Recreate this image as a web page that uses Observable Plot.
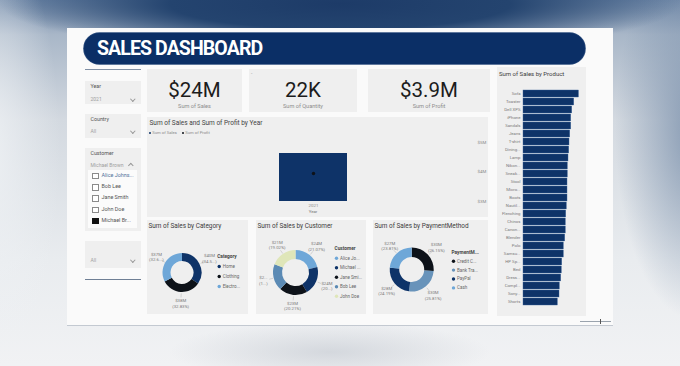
<!DOCTYPE html>
<html>
<head>
<meta charset="utf-8">
<script src="https://cdn.jsdelivr.net/npm/d3@7"></script>
<script src="https://cdn.jsdelivr.net/npm/@observablehq/plot@0.6"></script>
<style>
html,body{margin:0;padding:0;}
body{width:680px;height:366px;overflow:hidden;position:relative;font-family:Roboto,"Open Sans",sans-serif;
 background:
  radial-gradient(ellipse 340px 50px at 340px 4px, #1d3b68 0%, #24446f 50%, rgba(40,70,110,0) 100%),
  radial-gradient(ellipse 80px 190px at 695px 130px, rgba(120,142,170,0.85) 0%, rgba(120,142,170,0) 100%),
  radial-gradient(ellipse 70px 220px at -10px 150px, rgba(238,241,244,0.9) 0%, rgba(238,241,244,0) 100%),
  radial-gradient(ellipse 160px 30px at 330px 352px, rgba(200,205,212,0.7) 0%, rgba(200,205,212,0) 100%),
  linear-gradient(180deg, #6f88a8 0px, #a9b7c8 35px, #d3d9e0 120px, #e9ecef 260px, #f1f2f4 366px);
}
#root{position:absolute;left:0;top:0;width:680px;height:366px;}
.a{position:absolute;}
.t{position:absolute;white-space:nowrap;line-height:1;transform:translateY(-50%);}
.box{position:absolute;background:#efefef;}
.chev{position:absolute;width:2.6px;height:2.6px;border-right:0.7px solid #999;border-bottom:0.7px solid #999;}
.cb{position:absolute;width:4.4px;height:4.4px;border:0.7px solid #8a8a8a;background:#fff;}
</style>
</head>
<body>
<div id="root"></div>
<script>
// ---------------- data ----------------
const dashboardTitle = "SALES DASHBOARD";

const kpiValues = ["$24M", "22K", "$3.9M"];
const kpiLabels = ["Sum of Sales", "Sum of Quantity", "Sum of Profit"];

const years = ["2021"];
const yearSales = [24];      // $M
const yearProfit = [3.95];   // $M
const profitTicks = [3, 4, 5];

const categoryNames = ["Home", "Clothing", "Electronics"];
const categoryLegend = ["Home", "Clothing", "Electro..."];
const categoryShare = [34.55, 32.83, 32.62];
const categoryValueLabels = ["$40M", "$38M", "$37M"];
const categoryPctLabels = ["(34.5...)", "(32.83%)", "(32.6...)"];

const customerNames = ["Alice Johnson", "Michael Brown", "Jane Smith", "Bob Lee", "John Doe"];
const customerLegend = ["Alice Jo...", "Michael ...", "Jane Smi...", "Bob Lee", "John Doe"];
const customerShare = [21.07, 20.5, 20.21, 19.2, 19.02];
const customerValueLabels = ["$24M", "$24M", "$23M", "$2...", "$21M"];
const customerPctLabels = ["(21.07%)", "(20...)", "(20.21%)", "(1...)", "(19.02%)"];

const paymentNames = ["Credit Card", "Bank Transfer", "PayPal", "Cash"];
const paymentLegend = ["Credit C...", "Bank Tra...", "PayPal", "Cash"];
const paymentShare = [26.15, 25.81, 24.19, 23.81];
const paymentValueLabels = ["$30M", "$30M", "$28M", "$27M"];
const paymentPctLabels = ["(26.15%)", "(25.81%)", "(24.19%)", "(23.81%)"];

const productNames = ["Sofa", "Toaster", "Dell XPS", "iPhone", "Sandals", "Jeans", "T-shirt", "Dining...", "Lamp",
  "Nikon...", "Sneak...", "Stool", "Micro...", "Boots", "Nautil...", "Flenching", "Chinos", "Canon...", "Blender",
  "Polo", "Samsu...", "HP Sp...", "Bed", "Dress...", "Compl...", "Sony...", "Shorts"];
const productSales = [5.54, 5.07, 4.87, 4.77, 4.77, 4.67, 4.6, 4.57, 4.5, 4.43, 4.43, 4.4, 4.4, 4.4, 4.33, 4.27,
  4.23, 4.23, 4.17, 4.03, 4.03, 3.87, 3.83, 3.77, 3.63, 3.6, 3.43];

const customerOptions = ["Alice Johns...", "Bob Lee", "Jane Smith", "John Doe", "Michael Br..."];
const customerChecked = [false, false, false, false, true];

// ---------------- palette ----------------
const NAVY = "#0e3368", BLACK = "#0d1219", LIGHT = "#6ea7d8", STEEL = "#5b8ab4", PALE = "#dfe6b9";

// ---------------- helpers ----------------
const root = document.getElementById("root");
function div(cls, left, top, w, h, css = "") {
  const d = document.createElement("div");
  d.className = cls;
  d.style.cssText = `left:${left}px;top:${top}px;` + (w != null ? `width:${w}px;` : "") + (h != null ? `height:${h}px;` : "") + css;
  root.appendChild(d);
  return d;
}
function txt(s, left, cy, css = "") {
  const d = div("t", left, cy, null, null, css);
  d.textContent = s;
  return d;
}
function place(node, left, top) {
  const d = div("a", left, top);
  d.appendChild(node);
  return d;
}

// ---------------- frame ----------------
div("a", 67, 28, 546, 298, "background:#fafafa;");
div("a", 67, 325, 546, 1.2, "background:#c3c9d1;");
div("a", 580, 321, 31, 0.8, "background:#9aa3ad;");
div("a", 600, 318.5, 1.2, 5, "background:#555;");
div("a", 84, 33, 501, 31, "background:#0b2f66;border-radius:16px;box-shadow:0 0 0 0.8px #2c4d7e;");
txt(dashboardTitle, 97, 48.8, "color:#fff;font-weight:700;font-size:19.5px;letter-spacing:-0.9px;");

// ---------------- slicers ----------------
div("a", 85, 68.5, 56, 1.6, "background:#7f8fa4;");
div("box", 85, 81, 56, 23);
txt("Year", 90.5, 86.5, "font-size:5.3px;color:#555;");
txt("2021", 90.5, 98.5, "font-size:5px;color:#a0a0a0;");
div("chev", 131, 96.5, null, null, "transform:rotate(45deg);");
div("box", 85, 114, 56, 23.5);
txt("Country", 90.5, 119.5, "font-size:5.3px;color:#555;");
txt("All", 90.5, 131, "font-size:5px;color:#a0a0a0;");
div("chev", 131, 129, null, null, "transform:rotate(45deg);");
div("box", 85, 148, 56, 83);
txt("Customer", 90.5, 153.5, "font-size:5.3px;color:#555;");
txt("Michael Brown", 90.5, 164.5, "font-size:5px;color:#a0a0a0;");
div("chev", 128.5, 164, null, null, "transform:rotate(-135deg);");
div("a", 88, 170, 49, 58, "background:#fbfbfb;");
customerOptions.forEach((n, i) => {
  const cy = 175.8 + i * 11.25;
  div("cb", 92.3, cy - 2.9, null, null, customerChecked[i] ? "background:#111;border-color:#111;" : "");
  txt(n, 101.5, cy, `font-size:5.4px;color:${i === 0 ? "#50709a" : "#555"};`);
});
div("box", 85, 241, 56, 27);
txt("All", 90.5, 259.5, "font-size:5px;color:#a0a0a0;");
div("chev", 131, 257.5, null, null, "transform:rotate(45deg);");
div("a", 85, 278.5, 56, 1.6, "background:#6f7f95;");

// ---------------- KPI cards ----------------
const cards = [[147, 95], [249, 108], [368, 122]];
cards.forEach(([x, w], i) => {
  div("box", x, 69, w, 43);
  txt(kpiValues[i], x, 90, `width:${w}px;text-align:center;font-size:20.5px;color:#1c1c1c;`);
  txt(kpiLabels[i], x, 106.5, `width:${w}px;text-align:center;font-size:5.6px;color:#8c8c8c;`);
});
txt("-", 251, 72.5, "font-size:5px;color:#999;");

// ---------------- Sales & Profit by Year ----------------
div("box", 147, 117, 341, 100);
txt("Sum of Sales and Sum of Profit by Year", 149.5, 122.5, "font-size:6.5px;color:#444;");
div("a", 148.8, 131.8, 2.6, 2.6, `border-radius:50%;background:${NAVY};`);
txt("Sum of Sales", 152.3, 133.2, "font-size:4.2px;color:#8a8a8a;");
div("a", 181.8, 131.8, 2.6, 2.6, `border-radius:50%;background:${BLACK};`);
txt("Sum of Profit", 185.3, 133.2, "font-size:4.2px;color:#8a8a8a;");

const yearRows = years.map((y, i) => ({year: y, sales: yearSales[i], profit: yearProfit[i]}));
const yearCommon = {
  width: 341, height: 79, marginTop: 0, marginBottom: 16, marginLeft: 12, marginRight: 22,
  style: {background: "transparent", fontFamily: "Roboto", fontSize: "4.4px", color: "#8a8a8a", overflow: "visible"}
};
const salesPlot = Plot.plot({
  ...yearCommon,
  x: {domain: years, padding: 0.637, label: null, tickSize: 0, tickPadding: 2.5},
  y: {domain: [0, 31.5], axis: null},
  marks: [
    Plot.barY(yearRows, {x: "year", y: "sales", fill: NAVY}),
    Plot.text(["Year"], {frameAnchor: "bottom", dy: 11, text: d => d, fill: "#777", fontSize: 4.4})
  ]
});
place(salesPlot, 147, 138);
const profitPlot = Plot.plot({
  ...yearCommon,
  x: {domain: years, padding: 0.637, axis: null},
  y: {domain: [3, 5.136], axis: "right", ticks: profitTicks, tickFormat: d => `$${d}M`, tickSize: 0, tickPadding: 11, label: null},
  marks: [
    Plot.dot(yearRows, {x: "year", y: "profit", fill: BLACK, r: 1.7})
  ]
});
place(profitPlot, 147, 138);

// ---------------- donuts ----------------
function donut(o) {
  const {W, H, cx, cy, rOut, rIn, names, shares, colors, valueLabels, pctLabels, legendTitle, legendNames, lx, ly, lstep} = o;
  const pie = d3.pie().sort(null).value(d => d.share)(
    names.map((n, i) => ({name: n, share: shares[i], v: valueLabels[i], p: pctLabels[i]})));
  const rows = pie.map(a => {
    const m = (a.startAngle + a.endAngle) / 2;
    return {...a.data, dx: Math.sin(m), dy: -Math.cos(m)};
  });
  const rl = rOut + 11;
  const arcs = (index, scales) => {
    const sx = scales && scales.x ? scales.x : (v => v);
    const sy = scales && scales.y ? scales.y : (v => v);
    const k = sx(1) - sx(0);
    const arc = d3.arc().innerRadius(rIn * k).outerRadius(rOut * k);
    const g = d3.create("svg:g").attr("transform", `translate(${sx(cx)},${sy(cy)})`);
    g.selectAll("path").data(pie).join("path")
      .attr("d", arc)
      .attr("fill", (d, i) => scales && scales.color ? scales.color(d.data.name) : colors[i]);
    return g.node();
  };
  return Plot.plot({
    width: W, height: H, margin: 0,
    x: {domain: [0, W], range: [0, W], axis: null},
    y: {domain: [0, H], range: [0, H], axis: null},
    color: {domain: names, range: colors},
    style: {background: "transparent", fontFamily: "Roboto", overflow: "visible"},
    marks: [
      arcs,
      Plot.link(rows, {
        x1: d => cx + d.dx * (rOut + 1), y1: d => cy + d.dy * (rOut + 1),
        x2: d => cx + d.dx * (rOut + 5), y2: d => cy + d.dy * (rOut + 5),
        stroke: "#b0b0b0", strokeWidth: 0.5
      }),
      Plot.text(rows, {x: d => cx + d.dx * rl, y: d => cy + d.dy * rl - 2.7, text: "v", fontSize: 4.3, fill: "#7a7a7a"}),
      Plot.text(rows, {x: d => cx + d.dx * rl, y: d => cy + d.dy * rl + 2.7, text: "p", fontSize: 4.3, fill: "#7a7a7a"}),
      Plot.text([legendTitle], {x: lx - 2, y: ly - lstep, text: d => d, textAnchor: "start", fontSize: 4.8, fontWeight: 700, fill: "#444"}),
      Plot.dot(names, {x: lx, y: (d, i) => ly + i * lstep, fill: d => d, r: 1.7}),
      Plot.text(legendNames, {x: lx + 3.5, y: (d, i) => ly + i * lstep, text: d => d, textAnchor: "start", fontSize: 4.5, fill: "#666"})
    ]
  });
}

div("box", 147, 220, 101, 94);
txt("Sum of Sales by Category", 148.5, 226.3, "font-size:6.4px;color:#3c3c3c;");
place(donut({
  W: 101, H: 94, cx: 35, cy: 52.5, rOut: 19.5, rIn: 11.5,
  names: categoryNames, shares: categoryShare, colors: [NAVY, BLACK, LIGHT],
  valueLabels: categoryValueLabels, pctLabels: categoryPctLabels,
  legendTitle: "Category", legendNames: categoryLegend, lx: 71.7, ly: 46, lstep: 10
}), 147, 220);

div("box", 256, 220, 110, 94);
txt("Sum of Sales by Customer", 257.5, 226.3, "font-size:6.4px;color:#3c3c3c;");
place(donut({
  W: 110, H: 94, cx: 39.5, cy: 52.5, rOut: 22.5, rIn: 13.5,
  names: customerNames, shares: customerShare, colors: [LIGHT, NAVY, BLACK, STEEL, PALE],
  valueLabels: customerValueLabels, pctLabels: customerPctLabels,
  legendTitle: "Customer", legendNames: customerLegend, lx: 80, ly: 37.7, lstep: 9.5
}), 256, 220);

div("box", 373, 220, 115, 94);
txt("Sum of Sales by PaymentMethod", 374.5, 226.3, "font-size:6.4px;color:#3c3c3c;");
place(donut({
  W: 115, H: 94, cx: 38.7, cy: 49.5, rOut: 22, rIn: 12.5,
  names: paymentNames, shares: paymentShare, colors: [BLACK, "#6893ba", NAVY, LIGHT],
  valueLabels: paymentValueLabels, pctLabels: paymentPctLabels,
  legendTitle: "PaymentM...", legendNames: paymentLegend, lx: 80, ly: 40.7, lstep: 8.9
}), 373, 220);

// ---------------- Sales by Product ----------------
div("box", 497, 67, 89, 249);
txt("Sum of Sales by Product", 499, 73.5, "font-size:6px;color:#3c3c3c;");
const productRows = productNames.map((n, i) => ({product: n, sales: productSales[i]}));
place(Plot.plot({
  width: 89, height: 233, marginTop: 2, marginBottom: 1, marginLeft: 26, marginRight: 3,
  x: {domain: [0, 6], axis: null},
  y: {domain: productNames, padding: 0.18, label: null, tickSize: 0, tickPadding: 3},
  style: {background: "transparent", fontFamily: "Roboto", fontSize: "4.3px", color: "#7a7a7a", overflow: "visible"},
  marks: [
    Plot.barX(productRows, {x: "sales", y: "product", fill: NAVY, stroke: "#3b6399", strokeWidth: 0.4})
  ]
}), 497, 80);
</script>
</body>
</html>
